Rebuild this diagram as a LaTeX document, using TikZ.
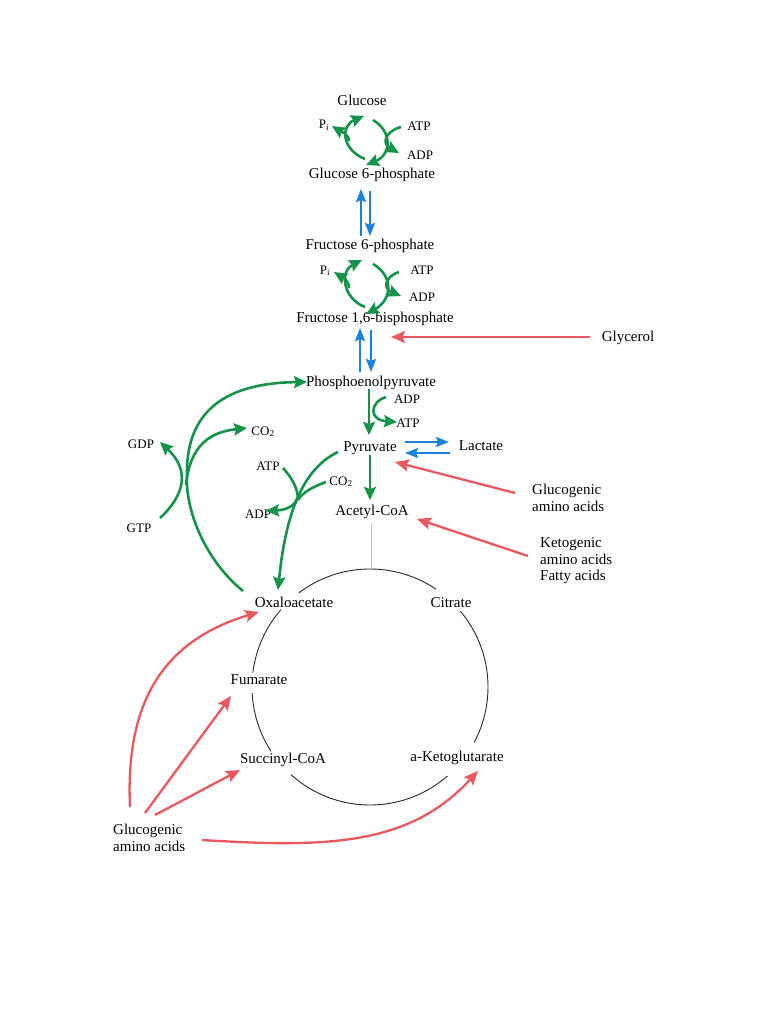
\documentclass[tikz,border=0pt]{standalone}
\usepackage{fontspec}
\setmainfont{Liberation Serif}
\usetikzlibrary{arrows.meta,calc}
\definecolor{pgreen}{RGB}{22,146,74}
\definecolor{pblue}{RGB}{26,130,216}
\definecolor{pred}{RGB}{232,89,95}
\definecolor{pcirc}{RGB}{40,40,40}
\definecolor{pgray}{RGB}{195,195,195}
\begin{document}
\begin{tikzpicture}[x=1pt,y=-1pt,
 lbl/.style={inner sep=0pt,anchor=base,font=\fontsize{15}{17}\selectfont},
 sm/.style={inner sep=0pt,anchor=base,font=\fontsize{13}{15}\selectfont},
 blk/.style={inner sep=0pt,anchor=west,align=left,font=\fontsize{15}{16.5}\selectfont},
 grn/.style={draw=pgreen,line width=2.6pt},
 garr/.style={grn,-{Stealth[length=13pt,width=12pt,inset=2pt]}},
 barr/.style={draw=pblue,line width=2.3pt,-{Stealth[length=13pt,width=10pt,inset=2pt]}},
 rarr/.style={draw=pred,line width=2.3pt,-{Stealth[length=14pt,width=12pt,inset=2.5pt]}},
 cyc/.style={draw=pcirc,line width=0.9pt},
 gline/.style={draw=pgray,line width=1pt},
]
\useasboundingbox (0,0) rectangle (768,1024);
\fill[white] (0,0) rectangle (768,1024);

% main labels
\node[lbl] (glc) at (362,106) {Glucose};
\node[lbl] (g6p) at (372,179) {Glucose 6-phosphate};
\node[lbl] (f6p) at (370,249) {Fructose 6-phosphate};
\node[lbl] (f16) at (375,322) {Fructose 1,6-bisphosphate};
\node[lbl] (pep) at (371,386) {Phosphoenolpyruvate};
\node[lbl] (pyr) at (370,451) {Pyruvate};
\node[lbl] (lac) at (481,450) {Lactate};
\node[lbl] (acoa) at (372,515) {Acetyl-CoA};
\node[lbl] (glyc) at (628,341) {Glycerol};
\node[lbl] (oaa) at (294,607) {Oxaloacetate};
\node[lbl] (cit) at (451,607) {Citrate};
\node[lbl] (fum) at (259,684) {Fumarate};
\node[lbl] (scoa) at (283,763) {Succinyl-CoA};
\node[lbl] (akg) at (457,761) {a-Ketoglutarate};
\node[blk] (gaa1) at (532,498) {Glucogenic\\amino acids};
\node[blk] (kaa) at (540,561) {Ketogenic\\amino acids\\Fatty acids};
\node[blk] (gaa2) at (113,838) {Glucogenic\\amino acids};

% cofactor labels
\node[sm] (pi1) at (324,129) {P\textsubscript{i}};
\node[sm] (atp1) at (419,131) {ATP};
\node[sm] (adp1) at (420,160) {ADP};
\node[sm] (pi2) at (325,274) {P\textsubscript{i}};
\node[sm] (atp2) at (422,274) {ATP};
\node[sm] (adp2) at (422,301) {ADP};
\node[sm] (adp3) at (407,403) {ADP};
\node[sm] (atp3) at (408,427) {ATP};
\node[sm] (gdp) at (141,448) {GDP};
\node[sm] (gtp) at (139,532) {GTP};
\node[sm] (co2a) at (263,435) {CO\textsubscript{2}};
\node[sm] (atp4) at (268,470) {ATP};
\node[sm] (co2b) at (341,485) {CO\textsubscript{2}};
\node[sm] (adp4) at (258,518) {ADP};

% cycle 1 (glucose / G6P)
\coordinate (c1a) at (365,159); \coordinate (c1b) at (364,116);
\coordinate (c1c) at (349,141); \coordinate (c1d) at (332,126);
\coordinate (c1e) at (373,120); \coordinate (c1f) at (366,165);
\coordinate (c1g) at (401,127); \coordinate (c1h) at (399,153);
\draw[garr] (c1a) .. controls (342,150) and (340,126) .. (c1b);
\draw[garr] (c1c) .. controls (349,134) and (340,131) .. (c1d);
\draw[garr] (c1e) .. controls (393,132) and (391,155) .. (c1f);
\draw[garr] (c1g) .. controls (386,131) and (381,143) .. (c1h);

% cycle 2 (F6P / F16BP)
\coordinate (c2a) at (365,307); \coordinate (c2b) at (362,260);
\coordinate (c2c) at (349,288); \coordinate (c2d) at (334,272);
\coordinate (c2e) at (373,264); \coordinate (c2f) at (366,314);
\coordinate (c2g) at (399,272); \coordinate (c2h) at (401,296);
\draw[garr] (c2a) .. controls (342,298) and (340,271) .. (c2b);
\draw[garr] (c2c) .. controls (349,280) and (342,277) .. (c2d);
\draw[garr] (c2e) .. controls (394,276) and (392,300) .. (c2f);
\draw[garr] (c2g) .. controls (386,276) and (382,288) .. (c2h);

% blue reversible steps
\coordinate (b1a) at (361,236); \coordinate (b1b) at (361,189);
\coordinate (b1c) at (370,191); \coordinate (b1d) at (370,236);
\draw[barr] (b1a) -- (b1b);
\draw[barr] (b1c) -- (b1d);
\coordinate (b2a) at (360,372); \coordinate (b2b) at (360,328);
\coordinate (b2c) at (371,330); \coordinate (b2d) at (371,372);
\draw[barr] (b2a) -- (b2b);
\draw[barr] (b2c) -- (b2d);
\coordinate (b3a) at (405,442); \coordinate (b3b) at (449,442);
\coordinate (b3c) at (450,453); \coordinate (b3d) at (405,453);
\draw[barr] (b3a) -- (b3b);
\draw[barr] (b3c) -- (b3d);

% glycerol
\coordinate (r1a) at (590,337); \coordinate (r1b) at (391,337);
\draw[rarr] (r1a) -- (r1b);

% PEPCK: oxaloacetate -> PEP
\coordinate (k1a) at (243,591); \coordinate (k1m) at (187,475); \coordinate (k1b) at (307,382);
\draw[garr] (k1a) .. controls (205,560) and (185,510) .. (k1m) .. controls (186,420) and (215,383) .. (k1b);
\coordinate (k2a) at (160,518); \coordinate (k2b) at (160,442);
\draw[garr] (k2a) .. controls (185,495) and (190,470) .. (k2b);
\coordinate (k3a) at (186,485); \coordinate (k3b) at (247,428);
\draw[garr] (k3a) .. controls (190,445) and (210,432) .. (k3b);

% pyruvate kinase
\coordinate (p1a) at (369,389); \coordinate (p1b) at (369,435);
\draw[garr] (p1a) -- (p1b);
\coordinate (p2a) at (386,397); \coordinate (p2b) at (397,422);
\draw[garr] (p2a) .. controls (370,402) and (368,420) .. (p2b);

% pyruvate -> acetyl-CoA
\coordinate (a1a) at (370,455); \coordinate (a1b) at (370,500);
\draw[garr] (a1a) -- (a1b);
\coordinate (a2a) at (371,524); \coordinate (a2b) at (371,569);
\draw[gline] (a2a) -- (a2b);

% pyruvate carboxylase
\coordinate (q1a) at (338,452); \coordinate (q1b) at (278,590);
\draw[garr] (q1a) .. controls (300,470) and (285,520) .. (q1b);
\coordinate (q2a) at (283,468); \coordinate (q2b) at (298,498);
\draw[grn] (q2a) .. controls (292,478) and (297,487) .. (q2b);
\coordinate (q3a) at (326,482); \coordinate (q3b) at (298,500);
\draw[grn] (q3a) .. controls (312,487) and (302,493) .. (q3b);
\coordinate (q4a) at (297,499); \coordinate (q4b) at (266,511);
\draw[garr] (q4a) .. controls (294,507) and (285,510) .. (q4b);

% right-side inputs
\coordinate (r2a) at (515,493); \coordinate (r2b) at (395,462);
\draw[rarr] (r2a) -- (r2b);
\coordinate (r3a) at (528,556); \coordinate (r3b) at (417,519);
\draw[rarr] (r3a) -- (r3b);

% TCA cycle
\coordinate (c) at (370,687);
\draw[cyc] ($(c)+(56:118pt)$) arc[start angle=56,end angle=127,radius=118pt];
\draw[cyc] ($(c)+(139:118pt)$) arc[start angle=139,end angle=173,radius=118pt];
\draw[cyc] ($(c)+(183:118pt)$) arc[start angle=183,end angle=213,radius=118pt];
\draw[cyc] ($(c)+(228:118pt)$) arc[start angle=228,end angle=311,radius=118pt];
\draw[cyc] ($(c)+(332:118pt)$) arc[start angle=332,end angle=400,radius=118pt];

% bottom-left inputs
\coordinate (s1a) at (130,807); \coordinate (s1b) at (259,612);
\draw[rarr] (s1a) .. controls (125,700) and (165,640) .. (s1b);
\coordinate (s2a) at (145,813); \coordinate (s2b) at (231,696);
\draw[rarr] (s2a) -- (s2b);
\coordinate (s3a) at (155,815); \coordinate (s3b) at (240,770);
\draw[rarr] (s3a) -- (s3b);
\coordinate (s4a) at (202,840); \coordinate (s4b) at (478,771);
\draw[rarr] (s4a) .. controls (330,848) and (410,845) .. (s4b);
\end{tikzpicture}
\end{document}
